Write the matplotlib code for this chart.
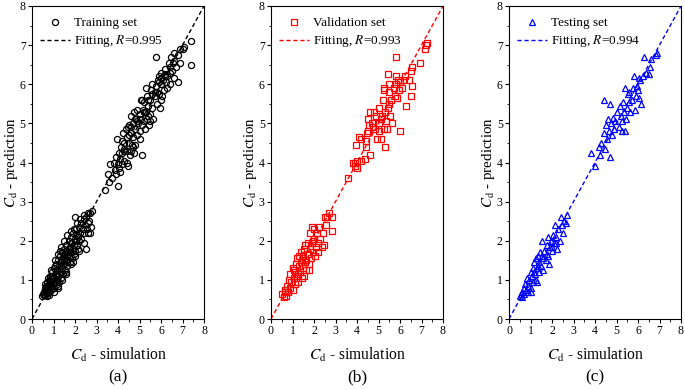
import matplotlib
matplotlib.use("Agg")
import matplotlib.pyplot as plt
from matplotlib.ticker import MultipleLocator

plt.rcParams['font.family'] = ['Liberation Serif', 'DejaVu Serif']
plt.rcParams['mathtext.fontset'] = 'stix'

# ---------------- data ----------------
train_sim = [0.45, 0.5, 0.55, 0.6, 0.6, 0.65, 0.65, 0.7, 0.7, 0.75, 0.75, 0.8, 0.8, 0.85, 0.85, 0.9, 0.9,
             0.95, 0.95, 1.0, 1.0, 1.0, 1.05, 1.1, 1.1, 1.1, 1.15, 1.15, 1.2, 1.2, 1.25, 1.25, 1.3, 1.3,
             1.35, 1.35, 1.4, 1.4, 1.45, 1.45, 1.5, 1.5, 1.55, 1.55, 1.6, 1.6, 1.65, 1.65, 1.7, 1.7, 1.75,
             1.75, 1.8, 1.8, 1.85, 1.85, 1.9, 1.9, 1.95, 2.0, 2.0, 2.05, 2.1, 2.1, 2.15, 2.2, 2.2, 2.25,
             2.3, 2.3, 2.35, 2.4, 2.4, 2.45, 2.5, 2.5, 2.55, 2.6, 2.6, 2.65, 2.7, 2.75, 2.8, 2.0, 1.2,
             0.7, 1.05, 1.6, 1.3, 1.9, 0.55, 0.8, 0.9, 1.0, 1.15, 1.25, 1.4, 1.5, 1.7, 1.8, 2.05, 2.15,
             0.62, 0.72, 0.85, 0.95, 1.35, 1.45, 1.55, 1.65, 1.75, 1.95,
             0.6, 0.75, 0.9, 1.05, 1.2, 1.35, 1.5, 1.65, 1.8, 1.95, 2.1, 2.25, 2.4, 1.0, 1.2, 1.4, 1.6,
             1.8, 2.0, 2.2, 2.4, 0.8, 2.6, 2.7,
             3.4, 3.55, 3.6, 3.65, 3.7, 3.8, 3.85, 3.9, 3.95, 4.0, 4.0, 4.05, 4.1, 4.1, 4.15, 4.2, 4.2,
             4.25, 4.3, 4.3, 4.35, 4.4, 4.4, 4.45, 4.5, 4.5, 4.55, 4.6, 4.6, 4.65, 4.7, 4.7, 4.75, 4.8,
             4.8, 4.85, 4.9, 4.9, 4.95, 5.0, 5.0, 5.05, 5.1, 5.1, 5.15, 5.2, 5.2, 5.25, 5.3, 5.35, 5.35,
             5.4, 5.45, 5.5, 5.5, 5.55, 5.6, 5.65, 5.7, 5.75, 5.75, 5.8, 5.85, 5.9, 5.95, 6.0, 6.0, 6.05,
             6.1, 6.15, 6.2, 6.25, 6.3, 6.35, 6.4, 6.45, 6.5, 6.55, 6.6, 6.8, 6.8, 6.9, 7.0, 7.05, 7.4,
             7.4, 4.45, 4.05, 5.3, 4.75, 4.6, 5.0, 5.4, 5.6, 5.9, 6.2, 4.3, 4.9, 5.2, 5.7, 6.0, 6.4,
             3.9, 4.2, 4.4, 4.6, 4.8, 5.0, 5.2, 5.4, 5.6, 5.8, 6.0, 6.2, 6.4, 6.6, 6.7, 6.9, 4.5, 4.7,
             5.1, 5.5, 5.9, 6.3, 4.3, 6.6]
train_pred = [0.58, 0.65, 0.7, 0.62, 0.78, 0.85, 0.68, 0.72, 0.95, 0.66, 0.82, 1.0, 0.7, 0.88, 1.1, 0.75,
              0.95, 1.2, 0.85, 1.05, 0.8, 1.3, 0.95, 1.15, 1.4, 0.88, 1.0, 1.25, 1.5, 1.1, 0.95, 1.35,
              1.6, 1.2, 1.05, 1.45, 1.7, 1.3, 1.15, 1.55, 1.8, 1.4, 1.25, 1.65, 1.9, 1.5, 1.35, 1.75, 2.0,
              1.6, 1.45, 1.85, 2.1, 1.7, 1.55, 1.95, 2.2, 1.8, 1.65, 2.05, 1.75, 2.3, 1.9, 2.15, 1.8, 2.35,
              2.0, 2.2, 2.45, 2.05, 2.3, 2.55, 2.2, 2.4, 1.8, 2.6, 2.3, 2.7, 2.2, 2.5, 2.7, 2.35, 2.75, 2.6,
              0.85, 0.6, 1.35, 1.2, 1.75, 1.45, 0.62, 0.85, 1.05, 0.92, 1.1, 1.15, 1.5, 1.6, 1.8, 1.95,
              2.0, 2.1, 0.75, 0.8, 0.98, 1.1, 1.35, 1.4, 1.55, 1.6, 1.7, 1.9,
              0.9, 1.05, 1.25, 1.5, 1.65, 1.85, 2.0, 2.15, 2.25, 2.3, 2.45, 2.55, 2.65, 0.68, 0.8, 1.0,
              1.15, 1.4, 1.6, 1.75, 1.95, 0.62, 2.45, 2.2,
              3.3, 3.7, 3.5, 3.95, 3.6, 4.0, 3.8, 4.15, 4.6, 3.4, 3.95, 4.25, 3.75, 4.1, 4.4, 3.95, 4.25,
              4.75, 4.05, 4.5, 4.85, 4.3, 4.65, 3.9, 4.95, 4.5, 4.2, 4.75, 5.2, 4.45, 5.0, 4.65, 5.3, 4.85,
              4.45, 5.1, 5.35, 4.7, 5.0, 5.25, 4.6, 5.6, 4.2, 4.95, 5.35, 5.05, 5.55, 4.85, 5.3, 5.7, 5.1,
              5.45, 4.95, 5.6, 5.25, 5.85, 5.4, 5.1, 5.7, 6.7, 5.95, 5.5, 6.1, 5.75, 5.4, 6.0, 6.3, 5.7,
              6.1, 5.85, 6.4, 6.05, 6.2, 6.55, 6.0, 6.7, 6.35, 6.55, 6.15, 6.05, 6.75, 6.55, 6.9, 6.95, 7.1,
              6.5, 4.9, 3.85, 5.9, 4.25, 4.9, 5.1, 5.6, 5.75, 6.05, 6.25, 4.35, 5.05, 5.3, 5.8, 6.15, 6.45,
              3.7, 4.55, 4.0, 4.3, 5.1, 4.8, 5.3, 5.2, 6.0, 5.8, 5.6, 6.2, 6.3, 6.6, 6.45, 6.9, 4.7, 4.4,
              5.6, 5.05, 6.2, 5.9, 4.3, 6.8]

valid_sim = [0.5, 0.6, 0.65, 0.7, 0.75, 0.8, 0.85, 0.9, 0.9, 0.95, 1.0, 1.0, 1.05, 1.1, 1.1, 1.15, 1.2,
             1.2, 1.25, 1.3, 1.3, 1.35, 1.4, 1.4, 1.45, 1.5, 1.5, 1.55, 1.55, 1.6, 1.6, 1.65, 1.7, 1.7,
             1.75, 1.8, 1.8, 1.85, 1.9, 1.9, 1.95, 2.0, 2.0, 2.05, 2.1, 2.15, 2.2, 2.25, 2.3, 2.35, 2.4,
             2.5, 2.55, 2.6, 2.7, 2.85, 2.85, 2.45, 2.2, 1.75, 0.65, 1.05, 1.25, 1.45, 1.65, 1.95,
             3.6, 3.8, 3.9, 3.9, 3.95, 4.0, 4.0, 4.1, 4.2, 4.2, 4.35, 4.4, 4.4, 4.45, 4.5, 4.5, 4.55,
             4.6, 4.6, 4.7, 4.75, 4.8, 4.85, 4.9, 4.95, 5.0, 5.0, 5.0, 5.1, 5.1, 5.15, 5.2, 5.25, 5.25,
             5.25, 5.3, 5.3, 5.35, 5.4, 5.45, 5.45, 5.5, 5.5, 5.5, 5.55, 5.6, 5.65, 5.7, 5.75, 5.8, 5.8,
             5.8, 5.85, 5.9, 5.95, 6.0, 6.0, 6.1, 6.2, 6.25, 6.3, 6.4, 6.5, 6.5, 6.55, 6.55, 6.95, 7.15,
             7.2, 7.25]
valid_pred = [0.65, 0.55, 0.75, 0.6, 0.85, 0.7, 1.0, 0.8, 1.15, 0.95, 1.3, 0.75, 1.05, 1.2, 0.9, 1.4, 1.1,
              1.55, 0.95, 1.35, 1.6, 1.2, 1.45, 1.7, 1.05, 1.3, 1.6, 1.8, 1.1, 1.45, 1.9, 1.25, 1.65, 1.95,
              1.4, 1.8, 2.2, 1.55, 2.35, 1.95, 1.7, 2.05, 2.3, 1.6, 1.85, 2.2, 1.95, 2.35, 2.05, 1.85, 2.2,
              2.6, 2.4, 2.6, 2.7, 2.6, 2.25, 1.9, 1.7, 1.25, 0.7, 1.25, 1.15, 1.5, 1.5, 2.0,
              3.6, 4.0, 4.0, 3.9, 4.45, 4.05, 3.85, 4.65, 4.6, 4.05, 4.1, 4.4, 4.55, 4.75, 4.8, 5.1, 4.95,
              4.2, 5.3, 5.0, 4.9, 5.3, 4.85, 5.2, 4.6, 5.4, 5.0, 4.8, 5.1, 4.6, 5.2, 5.6, 5.9, 5.85, 4.85,
              5.3, 4.4, 5.05, 4.85, 5.4, 6.25, 5.8, 5.5, 6.0, 5.2, 5.6, 5.0, 5.9, 5.7, 6.7, 6.0, 6.2,
              5.65, 6.1, 5.85, 6.05, 4.8, 5.9, 6.1, 6.2, 5.45, 6.1, 6.35, 5.7, 6.45, 5.95, 6.55, 6.9,
              7.0, 7.05]

test_sim = [0.5, 0.55, 0.6, 0.7, 0.7, 0.75, 0.8, 0.85, 0.9, 0.9, 0.95, 1.0, 1.0, 1.05, 1.1, 1.1, 1.15,
            1.2, 1.25, 1.25, 1.3, 1.35, 1.4, 1.4, 1.45, 1.5, 1.55, 1.55, 1.6, 1.65, 1.7, 1.75, 1.8, 1.8,
            1.85, 1.9, 1.95, 2.0, 2.05, 2.1, 2.15, 2.2, 2.25, 2.3, 2.35, 2.4, 2.45, 2.5, 2.55, 2.65,
            2.7, 2.2, 1.3, 1.0, 0.6, 1.15, 1.35, 1.6, 1.75, 2.0,
            3.8, 4.0, 4.2, 4.25, 4.3, 4.4, 4.4, 4.45, 4.5, 4.55, 4.6, 4.65, 4.7, 4.7, 4.75, 4.8, 4.85,
            4.9, 4.95, 5.0, 5.1, 5.15, 5.2, 5.25, 5.25, 5.3, 5.35, 5.4, 5.4, 5.45, 5.5, 5.55, 5.6, 5.6,
            5.65, 5.7, 5.75, 5.8, 5.85, 5.9, 5.95, 6.0, 6.05, 6.05, 6.1, 6.15, 6.25, 6.3, 6.35, 6.5,
            6.55, 6.6, 6.85, 6.9]
test_pred = [0.6, 0.65, 0.7, 0.65, 0.8, 0.9, 0.75, 1.05, 0.85, 0.7, 1.0, 1.2, 0.8, 1.1, 1.3, 0.95, 1.45,
             1.15, 1.0, 1.55, 1.3, 1.6, 1.2, 1.45, 1.7, 1.35, 2.0, 1.6, 1.25, 1.75, 1.5, 1.9, 2.1, 1.6,
             1.4, 1.85, 2.0, 1.75, 2.15, 1.95, 2.4, 2.1, 1.8, 2.3, 2.0, 2.6, 2.4, 2.2, 2.5, 2.45,
             2.65, 1.95, 0.95, 0.7, 0.55, 1.2, 1.35, 1.55, 1.65, 1.85,
             4.25, 3.9, 4.4, 4.2, 4.5, 5.6, 4.75, 4.35, 4.95, 4.6, 5.1, 4.8, 5.5, 4.15, 5.0, 4.7, 5.15,
             4.85, 5.05, 5.3, 4.9, 5.45, 5.2, 4.8, 5.05, 5.55, 5.3, 5.9, 4.8, 5.1, 5.4, 5.75, 5.55, 5.8,
             5.3, 5.6, 5.9, 6.2, 5.35, 5.7, 5.95, 5.85, 6.15, 5.65, 6.1, 5.5, 6.2, 6.7, 6.3, 6.25,
             6.45, 6.65, 6.75, 6.8]

panels = [
    (train_sim, train_pred, 'o', 'black', 'Training set', '0.995', '(a)'),
    (valid_sim, valid_pred, 's', '#ff0000', 'Validation set', '0.993', '(b)'),
    (test_sim, test_pred, '^', '#0000ff', 'Testing set', '0.994', '(c)'),
]
fit_line = [0, 8]

fig = plt.figure(figsize=(6.85, 3.9), dpi=100)
lefts = [32 / 685, 271 / 685, 509 / 685]
for left, (xs, ys, mk, col, lab, r, tag) in zip(lefts, panels):
    ax = fig.add_axes([left, 1 - 319 / 390, 172 / 685, 313 / 390])
    ax.plot(xs, ys, linestyle='none', marker=mk, markersize=4.4 if mk != '^' else 5.0,
            markerfacecolor='none', markeredgecolor=col, markeredgewidth=0.9, label=lab)
    ax.plot(fit_line, fit_line, linestyle=(0, (3, 2)), color=col, linewidth=1.0,
            label='Fitting, $\\mathit{R}$=' + r)
    ax.set_xlim(0, 8)
    ax.set_ylim(0, 8)
    ax.xaxis.set_major_locator(MultipleLocator(1))
    ax.yaxis.set_major_locator(MultipleLocator(1))
    ax.xaxis.set_minor_locator(MultipleLocator(0.5))
    ax.yaxis.set_minor_locator(MultipleLocator(0.5))
    ax.tick_params(which='major', direction='out', length=3, width=0.8, labelsize=8.5, pad=1.5)
    ax.tick_params(which='minor', direction='out', length=1.8, width=0.6)
    for s in ax.spines.values():
        s.set_linewidth(0.8)
    ax.set_xlabel('$\\mathit{C}_\\mathrm{d}$ - simulation', fontsize=11.2, labelpad=6)
    ax.set_ylabel('$\\mathit{C}_\\mathrm{d}$ - prediction', fontsize=10.8)
    ax.yaxis.set_label_coords(-0.072, 0.5)
    ax.legend(loc='upper left', bbox_to_anchor=(8 / 172, 1 - 11 / 313), frameon=False,
              fontsize=9.5, handlelength=2.3, handletextpad=0.3, borderaxespad=0,
              borderpad=0, labelspacing=0.3)
    ax.text(0.5, -0.16, tag, transform=ax.transAxes, ha='center', va='top', fontsize=12.5)

fig.savefig('out.png', dpi=100)
